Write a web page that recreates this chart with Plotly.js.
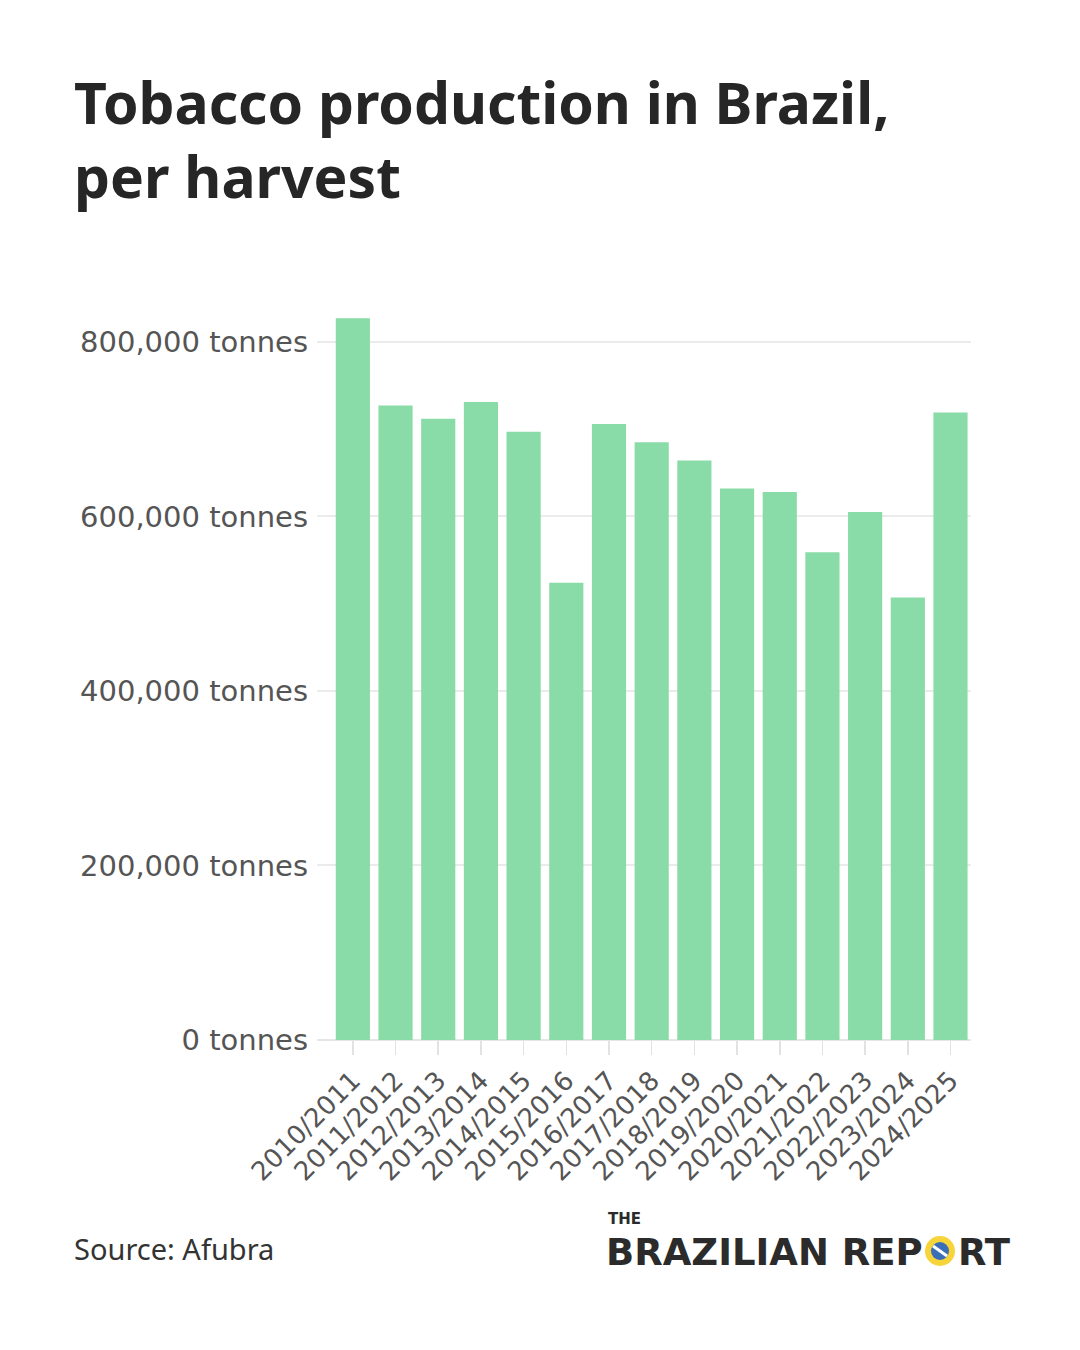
<!DOCTYPE html>
<html>
<head>
<meta charset="utf-8">
<script src="https://cdn.plot.ly/plotly-3.0.1.min.js"></script>
<style>
  html, body { margin: 0; padding: 0; background: #fff; }
  #chart { width: 1080px; height: 1350px; }
</style>
</head>
<body>
<div id="chart"></div>
<script>
// harvest seasons and production (tonnes)
const harvests = ['2010/2011', '2011/2012', '2012/2013', '2013/2014', '2014/2015',
    '2015/2016', '2016/2017', '2017/2018', '2018/2019', '2019/2020',
    '2020/2021', '2021/2022', '2022/2023', '2023/2024', '2024/2025'];
const tonnes = [827000, 727000, 712000, 731000, 697000,
    524000, 706000, 685000, 664000, 632000,
    628000, 559000, 605000, 507000, 719000];
const yTicks = [0, 200000, 400000, 600000, 800000];
const yTickText = yTicks.map(v => v.toLocaleString('en-US') + ' tonnes');

// plot area in page pixels, used to place the texts around it
const L = 317, R = 971, T = 307, B = 1040;
const px = (x) => (x - L) / (R - L);
const py = (y) => (B - y) / (B - T);

const data = [
    {
        x: harvests,
        y: tonnes,
        type: 'bar',
        marker: {color: '#89dba8'},
        hoverinfo: 'x+y'
    }
];

const note = (text, x, y, font, opts) => Object.assign({
    text: text,
    xref: 'paper', yref: 'paper',
    x: px(x), y: py(y),
    xanchor: 'left', yanchor: 'middle',
    showarrow: false,
    align: 'left',
    font: font
}, opts || {});

const logoFont = {family: 'DejaVu Sans', size: 37, color: '#2b2b2b'};

const layout = {
    width: 1080,
    height: 1350,
    autosize: false,
    paper_bgcolor: '#ffffff',
    plot_bgcolor: '#ffffff',
    showlegend: false,
    bargap: 0.2,
    margin: {l: L, r: 1080 - R, t: T, b: 1350 - B, pad: 0},
    xaxis: {
        type: 'category',
        range: [-0.84, 14.48],
        showgrid: false,
        showline: false,
        zeroline: false,
        ticks: 'outside',
        ticklen: 14,
        tickwidth: 1.5,
        tickcolor: '#e2e2e2',
        tickangle: -45,
        tickfont: {family: 'DejaVu Sans, Verdana, sans-serif', size: 26, color: '#555555'}
    },
    yaxis: {
        range: [0, 840000],
        tickvals: yTicks,
        ticktext: yTickText,
        showgrid: true,
        gridcolor: '#ebebeb',
        gridwidth: 2,
        zeroline: true,
        zerolinecolor: '#e6e6e6',
        zerolinewidth: 2,
        showline: false,
        ticks: '',
        ticklabelstandoff: 8,
        tickfont: {family: 'DejaVu Sans, Verdana, sans-serif', size: 29, color: '#555555'}
    },
    annotations: [
        note('<b>Tobacco production in Brazil,<br>per harvest</b>', 72, 139,
            {family: 'Noto Sans', size: 57, color: '#262626'}),
        note('Source: Afubra', 72, 1248, {family: 'Noto Sans', size: 29, color: '#333333'}),
        note('<b>THE</b>', 606, 1219, {family: 'DejaVu Sans', size: 15, color: '#2b2b2b'}),
        note('<b>BRAZILIAN REP</b>', 604, 1252, logoFont),
        note('<b>RT</b>', 956, 1252, logoFont)
    ],
    shapes: [
        // the yellow and blue "O" of the logo
        {type: 'circle', xref: 'paper', yref: 'paper', xsizemode: 'pixel', ysizemode: 'pixel',
            xanchor: px(940), yanchor: py(1251), x0: -15, x1: 15, y0: -15, y1: 15,
            fillcolor: '#f6d43a', line: {width: 0}},
        {type: 'circle', xref: 'paper', yref: 'paper', xsizemode: 'pixel', ysizemode: 'pixel',
            xanchor: px(940), yanchor: py(1251), x0: -9, x1: 9, y0: -9, y1: 9,
            fillcolor: '#3a6fb8', line: {width: 0}},
        {type: 'line', xref: 'paper', yref: 'paper', xsizemode: 'pixel', ysizemode: 'pixel',
            xanchor: px(940), yanchor: py(1251), x0: -7, x1: 7, y0: 5, y1: -5,
            line: {color: '#ffffff', width: 3}}
    ]
};

Plotly.newPlot('chart', data, layout, {displayModeBar: false, staticPlot: true});
</script>
</body>
</html>
